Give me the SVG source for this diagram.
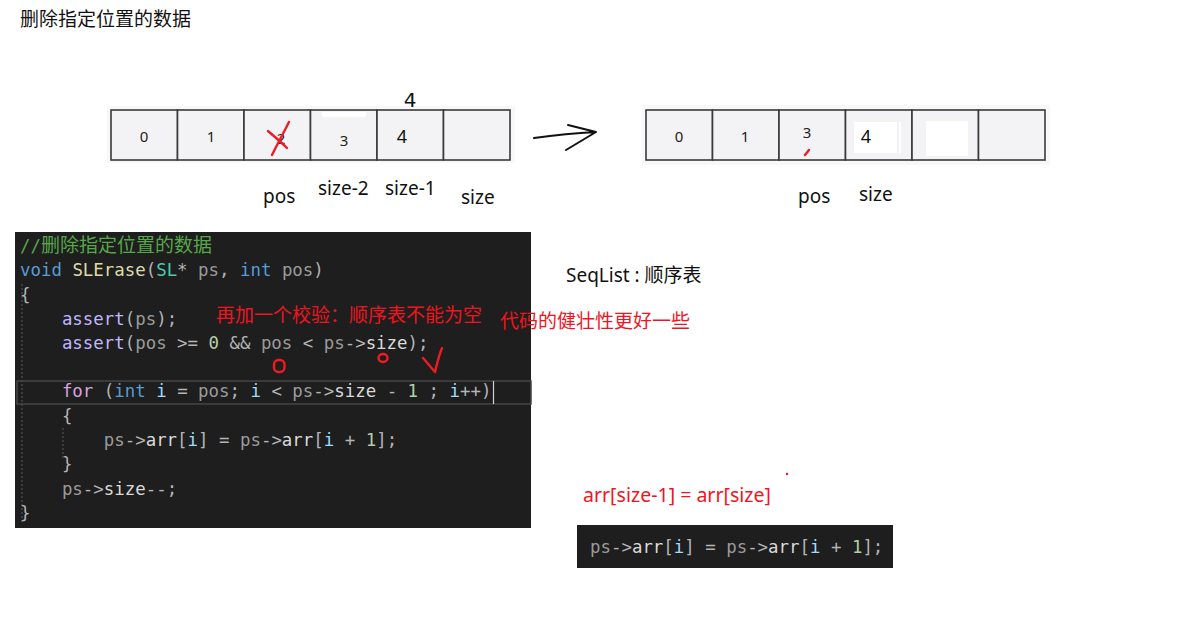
<svg xmlns="http://www.w3.org/2000/svg" width="1188" height="629" viewBox="0 0 1188 629">
<style>
.cjk{font-family:"Noto Sans CJK SC","Noto Sans",sans-serif}
.lbl{font-family:"Noto Sans","Noto Sans CJK SC",sans-serif;font-size:19px;fill:#111}
.dig{font-family:"Noto Sans",sans-serif;font-size:15px;fill:#222;text-anchor:middle}
.big{font-family:"Noto Sans",sans-serif;font-size:18px;fill:#111;text-anchor:middle}
.cell{fill:#F3F3F5;stroke:#3A3A3A;stroke-width:1.6}
.bg{fill:#F8F8FA}
.red{fill:#F0141E}
.ink{fill:none;stroke:#EE1C24;stroke-width:2.4;stroke-linecap:round;stroke-linejoin:round}
.code{font-family:"DejaVu Sans Mono","Liberation Mono",monospace;font-size:17.4px;fill:#B4B4B4;white-space:pre}
.dark{fill:#1E1E1E}
.cm{fill:#57A64A}.kw{fill:#569CD6}.fn{fill:#DCDCAA}.ty{fill:#4EC9B0}.pa{fill:#9A9A9A}.mc{fill:#BEB7FF}.mb{fill:#DADADA}.lv{fill:#9CDCFE}.nu{fill:#B5CEA8}.ct{fill:#D8A0DF}
.guide{stroke:#5A5A5A;stroke-width:1;stroke-dasharray:2 2}
</style>

<g id="title">
<text class="cjk" x="20" y="26" font-size="19" fill="#111">删除指定位置的数据</text>
</g>

<g id="array-before">
<rect class="bg" x="107" y="106" width="408" height="57"/>
<rect class="cell" x="111" y="110" width="66.5" height="50"/>
<rect class="cell" x="177.5" y="110" width="66.5" height="50"/>
<rect class="cell" x="244" y="110" width="66.5" height="50"/>
<rect class="cell" x="310.5" y="110" width="66.5" height="50"/>
<rect class="cell" x="377" y="110" width="66.5" height="50"/>
<rect class="cell" x="443.5" y="110" width="66.5" height="50"/>
<rect x="322" y="112" width="44" height="5" fill="#FFFFFF"/>
<text class="dig" x="144" y="142">0</text>
<text class="dig" x="211" y="142">1</text>
<text class="dig" x="281" y="144">2</text>
<text class="dig" x="344" y="146">3</text>
<text class="big" x="402" y="143">4</text>
<path class="ink" d="M289,122 C284,132 278,143 272,155 M268,131 C275,137 281,142 287,148"/>
<text x="410" y="107" font-family="DejaVu Sans,sans-serif" font-size="20" fill="#111" text-anchor="middle">4</text>
<text class="lbl" x="263" y="203">pos</text>
<text class="lbl" x="318" y="195">size-2</text>
<text class="lbl" x="385" y="195">size-1</text>
<text class="lbl" x="461" y="204">size</text>
</g>

<g id="connectors">
<path d="M534,138 C555,135 575,133 596,132 M568,125 L596,132 L566,150" fill="none" stroke="#111" stroke-width="2" stroke-linecap="round" stroke-linejoin="round"/>
</g>

<g id="array-after">
<rect class="bg" x="642" y="105" width="408" height="60"/>
<rect class="cell" x="646" y="110" width="66.5" height="50"/>
<rect class="cell" x="712.5" y="110" width="66.5" height="50"/>
<rect class="cell" x="779" y="110" width="66.5" height="50"/>
<rect class="cell" x="845.5" y="110" width="66.5" height="50"/>
<rect class="cell" x="912" y="110" width="66.5" height="50"/>
<rect class="cell" x="978.5" y="110" width="66.5" height="50"/>
<rect x="854" y="122" width="43" height="31" fill="#FFFFFF"/>
<rect x="899" y="122" width="2" height="31" fill="#FFFFFF"/>
<rect x="926" y="121" width="42" height="35" fill="#FFFFFF"/>
<text class="dig" x="679" y="142">0</text>
<text class="dig" x="745" y="142">1</text>
<text class="dig" x="807" y="138">3</text>
<text class="big" x="866" y="143">4</text>
<path class="ink" d="M805,155 L809,150"/>
<text class="lbl" x="798" y="203">pos</text>
<text class="lbl" x="859" y="201">size</text>
</g>

<g id="seqlist-label">
<text class="lbl" x="566" y="282">SeqList : 顺序表</text>
</g>

<g id="code-block">
<rect class="dark" x="15" y="232" width="516" height="296"/>
<line class="guide" x1="22" y1="284" x2="22" y2="524"/>
<line class="guide" x1="63" y1="428" x2="63" y2="460"/>
<rect x="17" y="381" width="514" height="23" fill="none" stroke="#464646" stroke-width="1.5"/>
<line x1="493.5" y1="381" x2="493.5" y2="404" stroke="#D0D0D0" stroke-width="1.2"/>
<text class="code" x="20" y="252"><tspan class="cm">//</tspan><tspan class="cm" font-family="Noto Sans CJK SC,sans-serif" font-size="19">删除指定位置的数据</tspan></text>
<text class="code" x="20" y="276"><tspan class="kw">void</tspan> <tspan class="fn">SLErase</tspan>(<tspan class="ty">SL</tspan>* <tspan class="pa">ps</tspan>, <tspan class="kw">int</tspan> <tspan class="pa">pos</tspan>)</text>
<text class="code" x="20" y="301">{</text>
<text class="code" x="20" y="325">    <tspan class="mc">assert</tspan>(<tspan class="pa">ps</tspan>);</text>
<text class="code" x="20" y="349">    <tspan class="mc">assert</tspan>(<tspan class="pa">pos</tspan> &gt;= <tspan class="nu">0</tspan> &amp;&amp; <tspan class="pa">pos</tspan> &lt; <tspan class="pa">ps</tspan>-&gt;<tspan class="mb">size</tspan>);</text>
<text class="code" x="20" y="397">    <tspan class="ct">for</tspan> (<tspan class="kw">int</tspan> <tspan class="lv">i</tspan> = <tspan class="pa">pos</tspan>; <tspan class="lv">i</tspan> &lt; <tspan class="pa">ps</tspan>-&gt;<tspan class="mb">size</tspan> - <tspan class="nu">1</tspan> ; <tspan class="lv">i</tspan>++)</text>
<text class="code" x="20" y="422">    {</text>
<text class="code" x="20" y="446">        <tspan class="pa">ps</tspan>-&gt;<tspan class="mb">arr</tspan>[<tspan class="lv">i</tspan>] = <tspan class="pa">ps</tspan>-&gt;<tspan class="mb">arr</tspan>[<tspan class="lv">i</tspan> + <tspan class="nu">1</tspan>];</text>
<text class="code" x="20" y="470">    }</text>
<text class="code" x="20" y="495">    <tspan class="pa">ps</tspan>-&gt;<tspan class="mb">size</tspan>--;</text>
<text class="code" x="20" y="519">}</text>
</g>

<g id="annotations">
<text class="cjk red" x="216" y="322" font-size="19">再加一个校验：顺序表不能为空</text>
<text class="cjk red" x="500" y="328" font-size="19">代码的健壮性更好一些</text>
<rect class="ink" x="274" y="360" width="10.5" height="12" rx="4.5" stroke-width="2.8"/>
<ellipse class="ink" cx="383" cy="358" rx="4.5" ry="4" stroke-width="2.8"/>
<path class="ink" d="M423,358 L435,372 C437,364 439,355 442,348"/>
<circle cx="787" cy="474" r="1.2" fill="#F0141E"/>
<text class="red" x="583" y="502" font-family="Noto Sans,sans-serif" font-size="19" textLength="188" lengthAdjust="spacingAndGlyphs">arr[size-1] = arr[size]</text>
</g>

<g id="code-snippet">
<rect class="dark" x="577" y="525" width="316" height="43"/>
<text class="code" x="590" y="553"><tspan class="pa">ps</tspan>-&gt;<tspan class="mb">arr</tspan>[<tspan class="lv">i</tspan>] = <tspan class="pa">ps</tspan>-&gt;<tspan class="mb">arr</tspan>[<tspan class="lv">i</tspan> + <tspan class="nu">1</tspan>];</text>
</g>
</svg>
